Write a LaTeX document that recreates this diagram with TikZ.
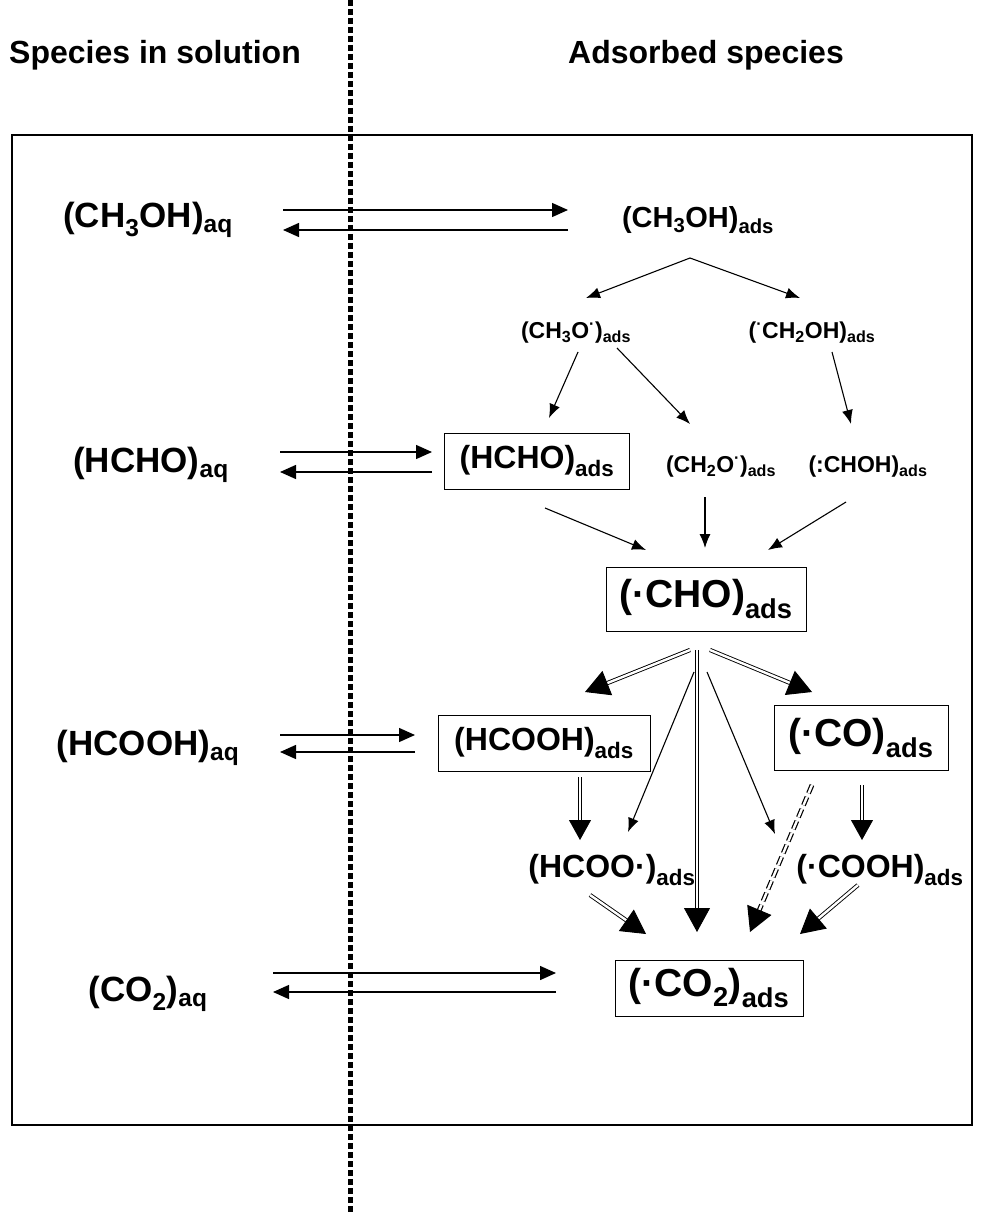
\documentclass[tikz,border=0pt]{standalone}
\usepackage{fontspec}
\setmainfont{Liberation Sans}
\usetikzlibrary{arrows.meta}
\newcommand{\fsz}[1]{\fontsize{#1}{#1}\selectfont\bfseries}
\newcommand{\sbb}[1]{\textsubscript{#1}}
\newcommand{\rdot}{\textsuperscript{·}}
\begin{document}
\begin{tikzpicture}[x=1pt,y=-1pt,
  big/.style={font=\fsz{35}},
  bx/.style={font=\fsz{32}},
  mid/.style={font=\fsz{23}},
  huge/.style={font=\fsz{39}},
  boxed/.style={draw,line width=1pt,inner sep=1pt},
  sa/.style={line width=1.1pt,-{Latex[length=14pt,width=11pt]}},
  ra/.style={line width=1.4pt,-{Triangle[length=16pt,width=14pt]}},
  dbl/.style={double,double distance=2.4pt,line width=0.9pt,-{Triangle[length=24pt,width=26pt]}},
  dblsmall/.style={double,double distance=2.4pt,line width=0.9pt,-{Triangle[length=20pt,width=22pt]}}]
\useasboundingbox (0,0) rectangle (991,1214);
\node[font=\fsz{32}] (h1) at (155,55) {Species in solution};
\node[font=\fsz{32}] (h2) at (706,55) {Adsorbed species};
\draw[line width=1.2pt] (12,135) rectangle (972,1125);
\draw[line width=5pt,dash pattern=on 6pt off 3pt] (350,0) -- (350,1214);
% solution species
\node[big] (a1) at (148,220) {(CH\sbb{3}OH)\sbb{aq}};
\node[big] (a2) at (151,465) {(HCHO)\sbb{aq}};
\node[big] (a3) at (148,748) {(HCOOH)\sbb{aq}};
\node[big] (a4) at (148,994) {(CO\sbb{2})\sbb{aq}};
% adsorbed
\node[font=\fsz{29}] (m) at (698,220) {(CH\sbb{3}OH)\sbb{ads}};
\node[mid] (mo) at (576,333) {(CH\sbb{3}O\rdot)\sbb{ads}};
\node[mid] (ch) at (812,333) {(\rdot CH\sbb{2}OH)\sbb{ads}};
\node[bx,boxed,minimum width=185pt,minimum height=56pt] (f) at (537,461) {(HCHO)\sbb{ads}};
\node[mid] (fo) at (721,467) {(CH\sbb{2}O\rdot)\sbb{ads}};
\node[mid] (co) at (868,467) {(\textbf{:}CHOH)\sbb{ads}};
\node[huge,boxed,minimum width=200pt,minimum height=64pt] (cho) at (706,599) {(·CHO)\sbb{ads}};
\node[bx,boxed,minimum width=212pt,minimum height=56pt] (fa) at (544,743) {(HCOOH)\sbb{ads}};
\node[huge,boxed,minimum width=174pt,minimum height=65pt] (cO) at (861,738) {(·CO)\sbb{ads}};
\node[bx] (hcoo) at (612,870) {(HCOO·)\sbb{ads}};
\node[bx] (cooh) at (880,870) {(·COOH)\sbb{ads}};
\node[huge,boxed,minimum width=188pt,minimum height=56pt] (co2) at (709,988) {(·CO\sbb{2})\sbb{ads}};
% coordinates for arrow ends
\foreach \n/\x/\y in {p1/283/210,p2/568/210,p3/568/230,p4/283/230,
 q1/280/452,q2/432/452,q3/432/472,q4/280/472,
 r1/280/735,r2/415/735,r3/415/752,r4/280/752,
 s1/273/973,s2/556/973,s3/556/992,s4/273/992}
 \coordinate (\n) at (\x,\y);
\draw[ra] (p1) -- (p2); \draw[ra] (p3) -- (p4);
\draw[ra] (q1) -- (q2); \draw[ra] (q3) -- (q4);
\draw[ra] (r1) -- (r2); \draw[ra] (r3) -- (r4);
\draw[ra] (s1) -- (s2); \draw[ra] (s3) -- (s4);
% single arrows
\coordinate (mb) at (690,258);
\draw[sa] (mb) -- (586,298);
\draw[sa] (mb) -- (800,298);
\draw[sa] (578,352) -- (549,418);
\draw[sa] (617,348) -- (690,424);
\draw[sa] (832,352) -- (851,424);
\draw[sa] (545,508) -- (646,550);
\draw[sa] (705,497) -- (705,548);
\draw[sa] (846,502) -- (768,550);
\draw[sa] (694,672) -- (628,832);
\draw[sa] (707,672) -- (775,834);
% double arrows
\draw[dbl] (690,650) -- (585,692);
\draw[dbl] (710,650) -- (812,692);
\draw[dbl] (697,650) -- (697,932);
\draw[dblsmall] (580,777) -- (580,840);
\draw[dblsmall] (862,785) -- (862,840);
\draw[dbl] (590,895) -- (646,934);
\draw[dbl] (858,885) -- (800,934);
\draw[dbl,line width=1.2pt,dash pattern=on 9pt off 4pt] (812,785) -- (750,932);
\end{tikzpicture}
\end{document}
